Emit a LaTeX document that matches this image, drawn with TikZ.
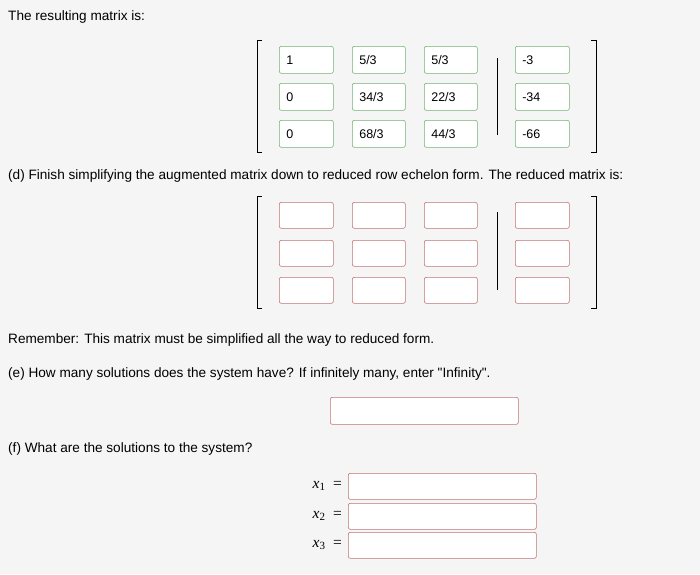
\documentclass[tikz,border=0pt]{standalone}
\usepackage{fontspec}
\setmainfont{Liberation Sans}
\newfontfamily\serifx{Liberation Serif}
\begin{document}
\begin{tikzpicture}[x=1pt,y=-1pt,
  gbox/.style={draw=green!45!black!55,fill=white,rounded corners=2pt,line width=0.6pt,minimum width=#1,minimum height=27pt,inner sep=0pt,anchor=north west,text width=#1-14pt,align=left,font=\fontsize{12.5}{14}\selectfont},
  rbox/.style={draw=red!55!black!55,fill=white,rounded corners=2pt,line width=0.6pt,minimum width=#1,minimum height=26pt,inner sep=0pt,anchor=north west},
  txt/.style={anchor=west,inner sep=0pt,font=\fontsize{13.6}{15}\selectfont},
  brk/.style={line width=0.8pt}]
\fill[gray!8] (0,0) rectangle (700,574);
\useasboundingbox (0,0) rectangle (700,574);
\node[txt] (t1) at (8,17) {The resulting matrix is:};
% top matrix
\foreach \r/\y/\a/\b/\c/\d in {1/46/1/5\slash3/5\slash3/-3, 2/83/0/34\slash3/22\slash3/-34, 3/120/0/68\slash3/44\slash3/-66}{
  \node[gbox=54pt] (a\r1) at (279,\y) {\a};
  \node[gbox=53pt] (a\r2) at (352,\y) {\b};
  \node[gbox=53pt] (a\r3) at (424,\y) {\c};
  \node[gbox=54pt] (a\r4) at (515,\y) {\d};
}
\draw[brk] (262,40) -- (257,40) -- (257,152) -- (262,152);
\draw[brk] (591,40) -- (596,40) -- (596,152) -- (591,152);
\draw[line width=0.8pt] (497,58) -- (497,135);
\node[txt] (t2) at (8,176) {(d) Finish simplifying the augmented matrix down to reduced row echelon form. The reduced matrix is:};
% second matrix
\foreach \r/\y in {1/202,2/240,3/277}{
  \node[rbox=54pt] (b\r1) at (279,\y) {};
  \node[rbox=53pt] (b\r2) at (352,\y) {};
  \node[rbox=53pt] (b\r3) at (424,\y) {};
  \node[rbox=54pt] (b\r4) at (515,\y) {};
}
\draw[brk] (262,196) -- (257,196) -- (257,308) -- (262,308);
\draw[brk] (591,196) -- (596,196) -- (596,308) -- (591,308);
\draw[line width=0.8pt] (497,212) -- (497,290);
\node[txt] (t3) at (8,340) {Remember: This matrix must be simplified all the way to reduced form.};
\node[txt] (t4) at (8,374) {(e) How many solutions does the system have? If infinitely many, enter \textquotedbl Infinity\textquotedbl.};
\node[rbox=188pt,minimum height=27pt] (e) at (330,397) {};
\node[txt] (t5) at (8,449) {(f) What are the solutions to the system?};
\foreach \i/\y in {1/473,2/503,3/532}{
  \node[rbox=188pt] (x\i) at (348,\y) {};
  \node[anchor=east,inner sep=0pt,font=\serifx\fontsize{15.5}{16}\selectfont] (l\i) at (342,\y+13) {\textit{x}\raisebox{-2.5pt}{\fontsize{11}{12}\selectfont\i}\hspace{8pt}=};
}
\end{tikzpicture}
\end{document}
